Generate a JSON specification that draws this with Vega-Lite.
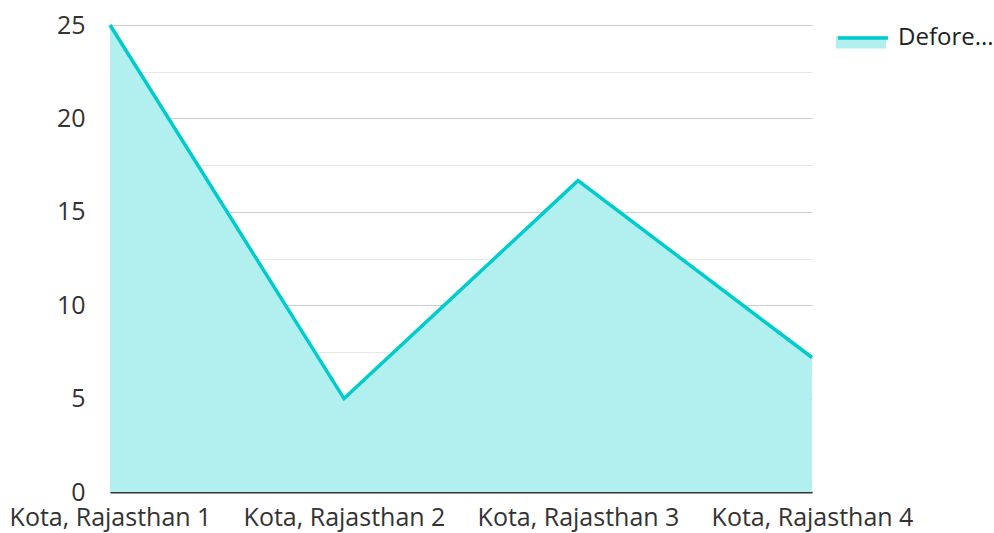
{
  "$schema": "https://vega.github.io/schema/vega-lite/v6.json",
  "width": 702,
  "height": 467,
  "autosize": {"type": "none"},
  "padding": {"left": 110, "top": 25, "right": 182, "bottom": 41},
  "background": "white",
  "config": {
    "font": "Open Sans",
    "view": {"stroke": null}
  },
  "data": {
    "values": [
      {"location": "Kota, Rajasthan 1", "value": 25, "series": "Defore..."},
      {"location": "Kota, Rajasthan 2", "value": 5, "series": "Defore..."},
      {"location": "Kota, Rajasthan 3", "value": 16.67, "series": "Defore..."},
      {"location": "Kota, Rajasthan 4", "value": 7.2, "series": "Defore..."}
    ]
  },
  "encoding": {
    "x": {
      "field": "location",
      "type": "ordinal",
      "scale": {"type": "point", "padding": 0},
      "sort": null,
      "axis": {
        "title": null,
        "labelAngle": 0,
        "labelFontSize": 25,
        "labelLimit": 0,
        "labelOverlap": false,
        "labelColor": "#333333",
        "labelPadding": 13,
        "ticks": false,
        "domainColor": "#333333",
        "domainWidth": 2,
        "grid": false
      }
    },
    "y": {
      "field": "value",
      "type": "quantitative",
      "scale": {"domain": [0, 25], "nice": false},
      "axis": {
        "title": null,
        "values": [0, 2.5, 5, 7.5, 10, 12.5, 15, 17.5, 20, 22.5, 25],
        "labelExpr": "datum.value % 5 === 0 ? datum.label : ''",
        "labelFontSize": 25,
        "labelColor": "#333333",
        "labelPadding": 25,
        "ticks": false,
        "domain": false,
        "grid": true,
        "gridColor": {"condition": {"test": "datum.value % 5 === 0", "value": "#cccccc"}, "value": "#e8e8e8"},
        "gridWidth": 1
      }
    }
  },
  "layer": [
    {
      "mark": {"type": "area", "opacity": 1},
      "encoding": {
        "fill": {
          "field": "series",
          "type": "nominal",
          "scale": {"range": ["#b2f0f0"]},
          "legend": {
            "title": null,
            "orient": "none",
            "legendX": 726,
            "legendY": -14,
            "symbolType": "M-1,0H1V0.5H-1Z",
            "symbolSize": 2500,
            "symbolStrokeWidth": 0,
            "labelFontSize": 24,
            "labelOpacity": 0,
            "labelOffset": 8
          }
        }
      }
    },
    {
      "mark": {"type": "line", "strokeWidth": 3.5},
      "encoding": {
        "stroke": {
          "field": "series",
          "type": "nominal",
          "scale": {"range": ["#00cccc"]},
          "legend": {
            "title": null,
            "orient": "none",
            "legendX": 726,
            "legendY": -14,
            "symbolType": "stroke",
            "symbolSize": 2500,
            "symbolStrokeWidth": 3.5,
            "labelFontSize": 24,
            "labelColor": "#222222",
            "labelOffset": 8
          }
        }
      }
    }
  ]
}
